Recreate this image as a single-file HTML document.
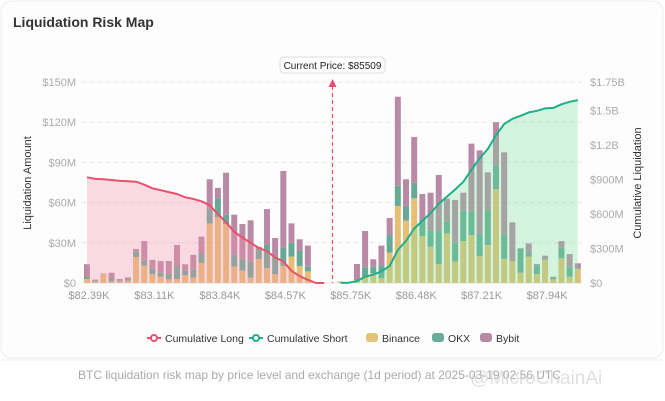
<!DOCTYPE html>
<html><head><meta charset="utf-8"><style>
body{margin:0;background:#fff;font-family:"Liberation Sans",sans-serif;}
svg{display:block}
</style></head><body>
<svg id="chart" width="665" height="401" viewBox="0 0 665 401" xmlns="http://www.w3.org/2000/svg">
<rect x="1" y="1" width="662" height="357" rx="10" fill="#fdfdfd" stroke="#ececec"/>
<text x="13" y="27" font-size="14" font-weight="bold" fill="#333">Liquidation Risk Map</text>
<g id="grid"></g>
<g id="bars"></g>
<g id="fills"></g>
<g id="lines"></g>
<g id="axes"></g>
<text transform="translate(31,183) rotate(-90)" text-anchor="middle" font-size="11" fill="#333">Liquidation Amount</text>
<text transform="translate(641,183) rotate(-90)" text-anchor="middle" font-size="11" fill="#333">Cumulative Liquidation</text>
<g>
<line x1="332.5" y1="86" x2="332.5" y2="283" stroke="#e8506e" stroke-width="1.2" stroke-dasharray="4,3"/>
<path d="M328.5,87 L332.5,79 L336.5,87 Z" fill="#e8506e"/>
<rect x="280" y="57" width="105" height="16" rx="4" fill="#fff" stroke="#ddd"/>
<text x="332.5" y="69" text-anchor="middle" font-size="10" fill="#222">Current Price: $85509</text>
</g>
<g id="legend" font-size="10.5" fill="#333"></g>
<line x1="1" y1="360" x2="663" y2="360" stroke="#eee"/>
<text x="78" y="379" font-size="12" fill="#aaa">BTC liquidation risk map by price level and exchange (1d period) at 2025-03-19 02:56 UTC</text>
<text x="470" y="384" font-size="19" fill="#ccc" opacity="0.6">@MicroChainAi</text>
</svg>
<script>
const binance=[3,1,6.7,1.2,1,1.7,19.4,13,6.7,4.7,2.7,3,5.7,4,15,44.5,49,44,12.2,9.2,4,17.9,11.2,6.7,12.7,19.7,12.7,8.7,0,0,0,1.2,1,2.2,4.2,7.2,3.5,22.6,57.5,46.5,63.2,35,27.1,14.2,37,16,31.3,35.8,20,28.4,70,18,16.2,7.7,19.7,6.7,17.2,2.7,18.4,4.7,10.4];
const okx=[1.5,1,0,2.5,0.7,1.3,4.2,4,4.3,3.3,4,9.7,3.8,6.2,7,10.5,14,7,9.2,9.2,12.2,8,17.2,13,13.7,10.3,11.2,3.5,0,0,0,0,0,0,7.5,5,9.5,13.2,15.1,11,11.7,12,11.9,24.6,9,14,22.7,17.4,16.6,26.1,17.6,18.3,0,18.2,2.3,6.5,0.5,1.5,8,7,0.6];
const bybit=[9.5,0.5,0.3,4,1.3,1.2,1.8,14.3,6.2,8.4,9.7,15.7,4.5,10.8,12.6,22.4,8,31.3,29.6,25.6,30.6,1.1,26.8,13.9,57.2,14.5,8.7,15.7,0,0,0,0,0,12,27.1,5.5,14.9,12.7,66.4,19.9,34.1,19.4,28.4,41.8,17,32,13.4,50.8,62.4,28.1,32.4,61.2,29.1,0,7.6,1,2.7,0.5,4.9,9.9,3.7];
const xLabels=["$82.39K","$83.11K","$83.84K","$84.57K","$85.75K","$86.48K","$87.21K","$87.94K"];
const xLabelBins=[0,8,16,24,32,40,48,56];
const leftTicks=["$0","$30M","$60M","$90M","$120M","$150M"];
const rightTicks=["$0","$300M","$600M","$900M","$1.2B","$1.5B","$1.75B"];
const rightTickVals=[0,300,600,900,1200,1500,1750];
const longEnd=27, shortStart=31;
const NS="http://www.w3.org/2000/svg";
const x0=87, step=8.18, yBase=283, yTop=82;
const xs=i=>x0+i*step;
const yL=v=>yBase-v*(yBase-yTop)/150;
const yR=v=>yBase-v*(yBase-yTop)/1750;
function mk(t,a,p){const e=document.createElementNS(NS,t);for(const k in a)e.setAttribute(k,a[k]);p.appendChild(e);return e;}
const grid=document.getElementById('grid'),axes=document.getElementById('axes');
leftTicks.forEach((t,i)=>{const v=i*30;
 const l=mk('line',{x1:82,x2:582,y1:yL(v),y2:yL(v),stroke:'#e6e6e6','stroke-dasharray':i?'5,3':'0','stroke-width':1},grid);
 
 const tx=mk('text',{x:76,y:yL(v)+4,'text-anchor':'end','font-size':11,fill:'#aaa'},axes);tx.textContent=t;
 });
rightTicks.forEach((t,i)=>{const tx=mk('text',{x:590,y:yR(rightTickVals[i])+4,'font-size':11,fill:'#aaa'},axes);tx.textContent=t;
 });
xLabels.forEach((t,i)=>{const tx=mk('text',{x:xs(xLabelBins[i])+2,y:299,'text-anchor':'middle','font-size':11,fill:'#999'},axes);tx.textContent=t;
 });
const tot=binance.map((b,i)=>b+okx[i]+bybit[i]);
const longPts=[],shortPts=[];
for(let i=0;i<=longEnd+2;i++){let s=0;for(let j=i;j<=longEnd;j++)s+=tot[j];longPts.push([xs(i),yR(s)]);}
let acc=0;for(let i=shortStart;i<tot.length;i++){acc+=tot[i];shortPts.push([xs(i),yR(acc)]);}
const fills=document.getElementById('fills');
const pth=p=>p.map((q,i)=>(i?'L':'M')+q[0].toFixed(1)+','+q[1].toFixed(1)).join(' ');
let f=mk('path',{d:pth(longPts)+` L${longPts[longPts.length-1][0]},${yBase} L${longPts[0][0]},${yBase} Z`,fill:'rgba(245,150,172,0.33)'},fills);

f=mk('path',{d:pth(shortPts)+` L${shortPts[shortPts.length-1][0]},${yBase} L${shortPts[0][0]},${yBase} Z`,fill:'rgba(120,225,160,0.3)'},fills);

const bars=document.getElementById('bars');
const cols=['#e6bf74','#68a996','#b98aa5'];
const names=['binance','okx','bybit'];
tot.forEach((t,i)=>{let base=0;[binance[i],okx[i],bybit[i]].forEach((v,k)=>{if(v<=0)return;
 const r=mk('rect',{x:xs(i)-3,y:yL(base+v),width:6,height:yL(base)-yL(base+v),fill:cols[k]},bars);
 base+=v;});});
const lines=document.getElementById('lines');
let ln=mk('path',{d:pth(longPts),fill:'none',stroke:'#e8506e','stroke-width':2,'stroke-linejoin':'round'},lines);

ln=mk('path',{d:pth(shortPts),fill:'none',stroke:'#1fae8a','stroke-width':2,'stroke-linejoin':'round'},lines);

const lg=document.getElementById('legend');
const items=[['line','#e8506e','Cumulative Long',147],['line','#1fae8a','Cumulative Short',249],['sq','#e3c27a','Binance',366],['sq','#6aaa9a','OKX',432],['sq','#b98aa5','Bybit',480]];
items.forEach(it=>{const g=mk('g',{},lg);
 const x=it[3];
 if(it[0]==='line'){mk('line',{x1:x,x2:x+14,y1:338,y2:338,stroke:it[1],'stroke-width':2},g);mk('circle',{cx:x+7,cy:338,r:3,fill:'#fff',stroke:it[1],'stroke-width':2},g);
  const t=mk('text',{x:x+18,y:342},g);t.textContent=it[2];}
 else{mk('rect',{x:x,y:333,width:12,height:9,rx:3,fill:it[1]},g);const t=mk('text',{x:x+16,y:342},g);t.textContent=it[2];}
});
</script>
</body></html>
